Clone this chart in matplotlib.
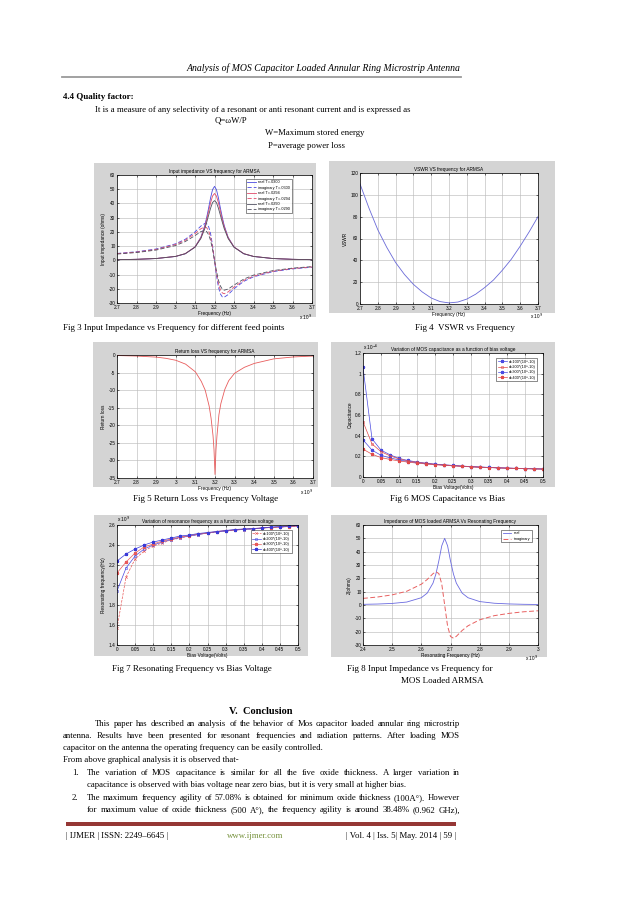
import matplotlib
matplotlib.use('Agg')
import matplotlib.pyplot as plt
from matplotlib.patches import Rectangle
from matplotlib.ticker import FormatStrFormatter

plt.rcParams['font.family'] = ['Liberation Serif', 'DejaVu Serif']

# ---------------- data ----------------
# Fig 3: input impedance vs frequency (x 10^9 Hz)
f1 = [2.70, 2.80, 2.90, 3.00, 3.05, 3.10, 3.13, 3.15, 3.16, 3.17, 3.18, 3.19, 3.20,
      3.21, 3.22, 3.23, 3.24, 3.25, 3.27, 3.30, 3.35, 3.40, 3.50, 3.60, 3.70]
real_300 = [0.46, 0.71, 1.25, 2.7, 4.6, 9.4, 16.2, 24.4, 30.2, 36.9, 44.0, 49.7, 52.0,
            49.7, 44.0, 36.9, 30.2, 24.4, 16.2, 9.4, 4.6, 2.7, 1.25, 0.71, 0.46]
imag_300 = [4.85, 6.03, 7.96, 11.6, 14.8, 20.0, 24.1, 25.9, 25.7, 23.6, 18.7, 10.6, 0.0,
            -10.6, -18.7, -23.6, -25.7, -25.9, -24.1, -20.0, -14.8, -11.6, -7.96, -6.03, -4.85]
real_294 = [0.47, 0.72, 1.27, 2.76, 4.7, 9.4, 15.9, 23.5, 28.7, 34.6, 40.5, 45.2, 47.0,
            45.2, 40.5, 34.6, 28.7, 23.5, 15.9, 9.4, 4.7, 2.76, 1.27, 0.72, 0.47]
imag_294 = [4.65, 5.78, 7.62, 11.1, 14.1, 18.8, 22.2, 23.5, 22.9, 20.7, 16.2, 9.0, 0.0,
            -9.0, -16.2, -20.7, -22.9, -23.5, -22.2, -18.8, -14.1, -11.1, -7.62, -5.78, -4.65]
real_290 = [0.47, 0.72, 1.27, 2.75, 4.67, 9.2, 15.3, 22.2, 26.8, 31.8, 36.7, 40.6, 42.0,
            40.6, 36.7, 31.8, 26.8, 22.2, 15.3, 9.2, 4.67, 2.75, 1.27, 0.72, 0.47]
imag_290 = [4.41, 5.47, 7.2, 10.4, 13.2, 17.4, 20.2, 21.0, 20.2, 18.0, 13.9, 7.66, 0.0,
            -7.66, -13.9, -18.0, -20.2, -21.0, -20.2, -17.4, -13.2, -10.4, -7.2, -5.47, -4.41]
legend1 = ['real T=.0300', 'imaginary T=.0300', 'real T=.0294',
           'imaginary T=.0294', 'real T=.0290', 'imaginary T=.0290']

# Fig 4: VSWR
f2 = [2.70, 2.75, 2.80, 2.85, 2.90, 2.95, 3.00, 3.05, 3.10, 3.15, 3.20,
      3.25, 3.30, 3.35, 3.40, 3.45, 3.50, 3.55, 3.60, 3.65, 3.70]
vswr = [110, 88, 68, 52, 38, 27, 18, 11, 5.5, 2.2, 1.0,
        1.8, 4.5, 9, 15, 22, 31, 41, 53, 66, 80]

# Fig 5: return loss
f3 = [2.70, 2.80, 2.90, 2.95, 3.00, 3.05, 3.10, 3.13, 3.15, 3.17, 3.18, 3.19, 3.195, 3.20,
      3.205, 3.21, 3.22, 3.23, 3.25, 3.27, 3.30, 3.35, 3.40, 3.50, 3.60, 3.70]
rloss = [-0.15, -0.3, -0.6, -0.95, -1.5, -2.6, -4.8, -7.5, -10, -14.5, -18, -23, -27, -34,
         -27, -23, -17, -13.8, -9.8, -7.3, -5.2, -3.5, -2.4, -1.1, -0.55, -0.3]

# Fig 6 / Fig 7: bias voltage sweep
vbias = [0, 0.025, 0.05, 0.075, 0.1, 0.125, 0.15, 0.175, 0.2, 0.225, 0.25,
         0.275, 0.3, 0.325, 0.35, 0.375, 0.4, 0.425, 0.45, 0.475, 0.5]
cap_100 = [1.06, 0.37, 0.26, 0.215, 0.18, 0.16, 0.145, 0.134, 0.125, 0.118, 0.112,
           0.106, 0.101, 0.097, 0.093, 0.089, 0.087, 0.084, 0.082, 0.080, 0.078]
cap_200 = [0.535, 0.32, 0.245, 0.205, 0.175, 0.156, 0.142, 0.132, 0.123, 0.117, 0.111,
           0.105, 0.100, 0.096, 0.092, 0.089, 0.086, 0.084, 0.081, 0.079, 0.077]
cap_300 = [0.36, 0.26, 0.21, 0.185, 0.165, 0.15, 0.138, 0.129, 0.121, 0.115, 0.109,
           0.104, 0.099, 0.095, 0.092, 0.088, 0.086, 0.083, 0.081, 0.079, 0.077]
cap_400 = [0.27, 0.22, 0.188, 0.17, 0.155, 0.144, 0.134, 0.126, 0.119, 0.113, 0.108,
           0.103, 0.098, 0.094, 0.091, 0.088, 0.085, 0.083, 0.080, 0.078, 0.077]
fr_100 = [1.57, 2.08, 2.26, 2.34, 2.39, 2.42, 2.45, 2.47, 2.49, 2.505, 2.52,
          2.53, 2.54, 2.55, 2.555, 2.56, 2.57, 2.575, 2.58, 2.585, 2.59]
fr_200 = [1.94, 2.17, 2.29, 2.36, 2.40, 2.43, 2.455, 2.475, 2.49, 2.505, 2.52,
          2.53, 2.54, 2.55, 2.555, 2.56, 2.57, 2.575, 2.58, 2.585, 2.59]
fr_300 = [2.12, 2.23, 2.32, 2.38, 2.41, 2.44, 2.46, 2.48, 2.495, 2.51, 2.52,
          2.535, 2.545, 2.55, 2.56, 2.565, 2.57, 2.575, 2.58, 2.585, 2.59]
fr_400 = [2.24, 2.31, 2.36, 2.40, 2.43, 2.45, 2.47, 2.49, 2.50, 2.515, 2.525,
          2.535, 2.545, 2.555, 2.56, 2.565, 2.57, 2.58, 2.585, 2.59, 2.595]
d_labels = ['d=100*(10^-10)', 'd=200*(10^-10)', 'd=300*(10^-10)', 'd=400*(10^-10)']

# Fig 8: impedance of MOS loaded ARMSA
f6 = [2.40, 2.45, 2.50, 2.55, 2.60, 2.62, 2.64, 2.65, 2.66, 2.67, 2.68,
      2.69, 2.70, 2.71, 2.72, 2.74, 2.76, 2.80, 2.85, 2.90, 2.95, 3.00]
z_real = [0.5, 0.73, 1.18, 2.22, 5.46, 8.9, 16.4, 23.3, 33.1, 44.4, 50.0,
          44.4, 33.1, 23.3, 16.4, 8.9, 5.46, 2.58, 1.32, 0.8, 0.53, 0.38]
z_imag = [4.95, 6.0, 7.6, 10.3, 15.6, 19.1, 23.5, 24.9, 23.6, 15.8, 0.0,
          -15.8, -23.6, -24.9, -23.5, -19.1, -15.6, -11.1, -8.0, -6.3, -5.1, -4.34]
z_labels = ['real', 'imaginary']

# ---------------- page ----------------
W, H = 638, 902
fig = plt.figure(figsize=(W / 100, H / 100), dpi=100)
fig.patch.set_facecolor('white')
SANS = 'Liberation Sans'
TS = 3.4  # tiny matlab text


def fx(x):
    return x / W


def fy(y):
    return 1 - y / H


def txt(x, y, s, size=6.3, **kw):
    kw.setdefault('va', 'baseline')
    return fig.text(fx(x), fy(y), s, fontsize=size, **kw)


def panel(x0, y0, x1, y1):
    fig.add_artist(Rectangle((fx(x0), fy(y1)), (x1 - x0) / W, (y1 - y0) / H,
                             transform=fig.transFigure, facecolor='#d4d4d4',
                             edgecolor='none', zorder=0))


def mat_axes(box, title, xlabel, ylabel, xlim, ylim, xstep, ystep):
    x0, y0, x1, y1 = box
    ax = fig.add_axes([fx(x0), fy(y1), (x1 - x0) / W, (y1 - y0) / H])
    ax.set_xlim(xlim)
    ax.set_ylim(ylim)
    ax.xaxis.set_major_locator(plt.MultipleLocator(xstep))
    ax.yaxis.set_major_locator(plt.MultipleLocator(ystep))
    ax.xaxis.set_major_formatter(FormatStrFormatter('%g'))
    ax.yaxis.set_major_formatter(FormatStrFormatter('%g'))
    ax.tick_params(direction='in', top=True, right=True, length=1.5, width=0.4,
                   labelsize=TS, pad=1.2)
    for lab in ax.get_xticklabels() + ax.get_yticklabels():
        lab.set_fontfamily(SANS)
    for sp in ax.spines.values():
        sp.set_linewidth(0.5)
    ax.grid(True, color='#bcbcbc', lw=0.45)
    ax.set_title(title, fontsize=TS, fontfamily=SANS, pad=1.5)
    ax.set_xlabel(xlabel, fontsize=TS, fontfamily=SANS, labelpad=0.8)
    ax.set_ylabel(ylabel, fontsize=TS, fontfamily=SANS, labelpad=1.5)
    return ax


def small_legend(ax, anchor, labels):
    leg = ax.legend(labels, loc='upper right', bbox_to_anchor=anchor,
                    frameon=True, fancybox=False, handlelength=2.2, borderpad=0.4,
                    labelspacing=0.35, handletextpad=0.6, prop={'family': SANS, 'size': 2.8})
    leg.get_frame().set_edgecolor('black')
    leg.get_frame().set_linewidth(0.4)
    return leg


def justify(line, x0, x1, y, size=6.3, **kw):
    words = line.split()
    parts = [txt(0, y, w_, size, **kw) for w_ in words]
    r = fig.canvas.get_renderer()
    widths = [p.get_window_extent(r).width for p in parts]
    gap = (x1 - x0 - sum(widths)) / (len(words) - 1)
    x = x0
    for p, w_ in zip(parts, widths):
        p.set_x(fx(x))
        x += w_ + gap


# header
txt(460, 71, 'Analysis of MOS Capacitor Loaded Annular Ring Microstrip Antenna',
    7.0, ha='right', style='italic')
fig.add_artist(plt.Line2D([fx(62), fx(461)], [fy(76.5), fy(76.5)], color='#9a9a9a',
                          lw=1.3, transform=fig.transFigure))
txt(63, 99, '4.4 Quality factor:', 6.5, fontweight='bold')
txt(95, 111.5, 'It is a measure of any selectivity of a resonant or anti resonant current and is expressed as')
txt(215, 122.5, 'Q=\u03c9W/P')
txt(265, 135.5, 'W=Maximum stored energy')
txt(268, 148, 'P=average power loss')

# Fig 3
panel(94, 163, 316, 317)
ax = mat_axes((117, 175, 312, 303), 'Input impedance VS frequency for ARMSA',
              'Frequency (Hz)', 'Input impedance (ohms)', (2.7, 3.7), (-30, 60), 0.1, 10)
ax.plot(f1, real_300, color='#4a4ae0', lw=0.6)
ax.plot(f1, imag_300, color='#4a4ae0', lw=0.6, ls=(0, (5, 2.5)))
ax.plot(f1, real_294, color='#e04a6a', lw=0.6)
ax.plot(f1, imag_294, color='#e04a6a', lw=0.6, ls=(0, (5, 2.5)))
ax.plot(f1, real_290, color='#505060', lw=0.6)
ax.plot(f1, imag_290, color='#505060', lw=0.6, ls=(0, (5, 2.5)))
small_legend(ax, (0.905, 0.985), legend1)
ax.text(1.0, -0.075, r'x 10$^9$', transform=ax.transAxes, fontsize=TS, fontfamily=SANS,
        ha='right', va='top')

# Fig 4
panel(329, 161, 555, 313)
ax = mat_axes((360, 173, 538, 304), 'VSWR VS frequency for ARMSA',
              'Frequency (Hz)', 'VSWR', (2.7, 3.7), (0, 120), 0.1, 20)
ax.plot(f2, vswr, color='#6a6ad8', lw=0.6)
ax.text(1.03, -0.06, r'x 10$^9$', transform=ax.transAxes, fontsize=TS, fontfamily=SANS,
        ha='right', va='top')

# Fig 5
panel(93, 342, 318, 487)
ax = mat_axes((117, 355, 313, 478), 'Return loss VS frequency for ARMSA',
              'Frequency (Hz)', 'Return loss', (2.7, 3.7), (-35, 0), 0.1, 5)
ax.plot(f3, rloss, color='#e85c5c', lw=0.6)
ax.text(1.0, -0.075, r'x 10$^9$', transform=ax.transAxes, fontsize=TS, fontfamily=SANS,
        ha='right', va='top')

# Fig 6
panel(331, 342, 555, 487)
ax = mat_axes((363, 353, 543, 477), 'Variation of MOS capacitance as a function of bias voltage',
              'Bias Voltage(Volts)', 'Capacitance', (0, 0.5), (0, 1.2), 0.05, 0.2)
ms = 2.2
ax.plot(vbias, cap_100, color='#4a4ae0', lw=0.5, marker='*', ms=ms)
ax.plot(vbias, cap_200, color='#e04a4a', lw=0.5, marker='s', ms=ms - 0.6, mfc='none', mew=0.4)
ax.plot(vbias, cap_300, color='#4a4ae0', lw=0.5, marker='*', ms=ms)
ax.plot(vbias, cap_400, color='#e04a4a', lw=0.5, marker='*', ms=ms)
small_legend(ax, (0.98, 0.975), d_labels)
ax.text(0.0, 1.01, r'x 10$^{-6}$', transform=ax.transAxes, fontsize=TS, fontfamily=SANS,
        ha='left', va='bottom')

# Fig 7
panel(94, 515, 308, 656)
ax = mat_axes((117, 525, 298, 645), 'Variation of resonance frequency as a function of bias voltage',
              'Bias Voltage(Volts)', 'Resonating frequency(Hz)', (0, 0.5), (1.4, 2.6), 0.05, 0.2)
ax.plot(vbias, fr_100, color='#e85a5a', lw=0.5, ls='--', marker='x', ms=ms - 0.4, mew=0.4)
ax.plot(vbias, fr_200, color='#4a4ae0', lw=0.5, marker='s', ms=ms - 0.6, mfc='none', mew=0.4)
ax.plot(vbias, fr_300, color='#e85a5a', lw=0.5, marker='*', ms=ms)
ax.plot(vbias, fr_400, color='#3a3ad8', lw=0.5, marker='*', ms=ms)
small_legend(ax, (0.975, 0.975), d_labels)
ax.text(0.0, 1.01, r'x 10$^9$', transform=ax.transAxes, fontsize=TS, fontfamily=SANS,
        ha='left', va='bottom')

# Fig 8
panel(331, 515, 547, 657)
ax = mat_axes((363, 525, 538, 645), 'Impedance of MOS loaded ARMSA Vs Resonating Frequency',
              'Resonating Frequency (Hz)', 'Z(ohms)', (2.4, 3.0), (-30, 60), 0.1, 10)
ax.plot(f6, z_real, color='#6a6ae0', lw=0.6)
ax.plot(f6, z_imag, color='#e86060', lw=0.7, ls=(0, (5, 2.5)))
small_legend(ax, (0.975, 0.975), z_labels)
ax.text(1.0, -0.075, r'x 10$^9$', transform=ax.transAxes, fontsize=TS, fontfamily=SANS,
        ha='right', va='top')

# captions
txt(63, 330, 'Fig 3 Input Impedance vs Frequency for different feed points', 6.5)
txt(415, 330, 'Fig 4  VSWR vs Frequency', 6.5)
txt(133, 501, 'Fig 5 Return Loss vs Frequency Voltage', 6.5)
txt(390, 501, 'Fig 6 MOS Capacitance vs Bias', 6.5)
txt(112, 671, 'Fig 7 Resonating Frequency vs Bias Voltage', 6.5)
txt(347, 671, 'Fig 8 Input Impedance vs Frequency for', 6.5)
txt(401, 683, 'MOS Loaded ARMSA', 6.5)

# conclusion
txt(261, 713.5, 'V.  Conclusion', 7.5, fontweight='bold', ha='center')
justify('This paper has described an analysis of the behavior of Mos capacitor loaded annular ring microstrip',
        95, 460, 726)
justify('antenna. Results have been presented for resonant frequencies and radiation patterns. After loading MOS',
        63, 460, 738)
txt(63, 750, 'capacitor on the antenna the operating frequency can be easily controlled.')
txt(63, 762.5, 'From above graphical analysis it is observed that-')
txt(72, 775, '1.')
justify('The variation of MOS capacitance is similar for all the five oxide thickness. A larger variation in',
        87, 460, 775)
txt(87, 787, 'capacitance is observed with bias voltage near zero bias, but it is very small at higher bias.')
txt(72, 800, '2.')
justify('The maximum frequency agility of 57.08% is obtained for minimum oxide thickness (100A\u00b0). However',
        87, 460, 800)
justify('for maximum value of oxide thickness (500 A\u00b0), the frequency agility is around 38.48% (0.962 GHz),',
        87, 460, 812)

# footer
fig.add_artist(Rectangle((fx(66), fy(825.5)), (456 - 66) / W, 4 / H, transform=fig.transFigure,
                         facecolor='#953735', edgecolor='none'))
txt(66, 838, '| IJMER | ISSN: 2249\u20136645 |', 6.3)
txt(255, 838, 'www.ijmer.com', 6.3, ha='center', color='#76923c')
txt(456, 838, '| Vol. 4 | Iss. 5| May. 2014 | 59 |', 6.3, ha='right')

plt.savefig('out.png', dpi=100)
